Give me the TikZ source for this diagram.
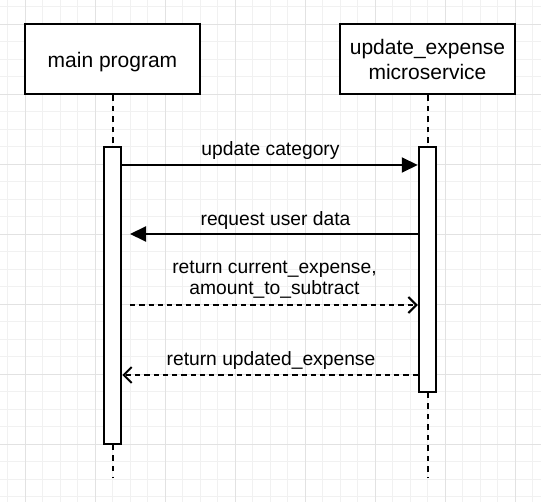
\documentclass[tikz,border=0pt]{standalone}
\usepackage{fontspec}
\setmainfont{Liberation Sans}
\usetikzlibrary{arrows.meta}
\definecolor{gridminor}{HTML}{F1F1F1}
\definecolor{gridmajor}{HTML}{E2E2E2}
\tikzset{
  hdr/.style={draw=black, line width=2pt, fill=white, minimum width=175pt, minimum height=70pt, inner sep=0pt, align=center, font=\fontsize{21}{25}\selectfont},
  actbar/.style={draw=black, line width=2pt, fill=white, minimum width=17.5pt, inner sep=0pt},
  lifeline/.style={line width=2pt, dash pattern=on 5.25pt off 5.25pt},
  msg/.style={line width=2pt, -{Triangle[length=16pt,width=15pt]}},
  reply/.style={line width=2pt, dash pattern=on 5.25pt off 4pt, -{Straight Barb[length=8pt,width=16pt]}},
  lbl/.style={inner sep=0pt, font=\fontsize{19.25}{21.7}\selectfont, align=center}
}
\begin{document}
\begin{tikzpicture}[x=1pt,y=-1pt]
\useasboundingbox (0,0) rectangle (541,502);
\fill[white] (0,0) rectangle (541,502);
% grid
\foreach \i in {0,...,30} {
  \draw[gridminor, line width=0.8pt] ({7.8+17.5*\i},0) -- ({7.8+17.5*\i},502);
  \draw[gridminor, line width=0.8pt] (0,{6.5+17.5*\i}) -- (541,{6.5+17.5*\i});
}
\foreach \i in {0,...,7} {
  \draw[gridmajor, line width=0.8pt] ({25.3+70*\i},0) -- ({25.3+70*\i},502);
  \draw[gridmajor, line width=0.8pt] (0,{24+70*\i}) -- (541,{24+70*\i});
}
% headers
\node[hdr, text depth=0pt] (mp) at (112.5,59.5) {main program};
\node[hdr] (ue) at (427.5,59.5) {update\_expense\\microservice};
% activation bars
\node[actbar, minimum height=297pt] (barL) at (112.5,295.5) {};
\node[actbar, minimum height=245pt] (barR) at (427.5,269.5) {};
% lifeline ends
\coordinate (endL) at (112.5,478);
\coordinate (endR) at (427.5,478);
\draw[lifeline] (mp.south) -- (barL.north);
\draw[lifeline] (barL.south) -- (endL);
\draw[lifeline] (ue.south) -- (barR.north);
\draw[lifeline] (barR.south) -- (endR);
% message tips near left bar
\coordinate (tipA) at (130,234);
\coordinate (startB) at (130,305);
% messages
\draw[msg] (barL.east |- 0,165) -- (barR.west |- 0,165);
\draw[msg] (barR.west |- 0,234) -- (tipA);
\draw[reply] (startB) -- (barR.west |- 0,305);
\draw[reply] (barR.west |- 0,375) -- (barL.east |- 0,375);
% labels
\node[lbl, anchor=base] (l1) at (270.5,155.7) {update category};
\node[lbl, anchor=base] (l2) at (275.5,225.7) {request user data};
\node[lbl, anchor=south, text depth=0pt] (l3) at (274.5,295) {return current\_expense,\\amount\_to\_subtract};
\node[lbl, anchor=base] (l4) at (271,365.7) {return updated\_expense};
\end{tikzpicture}
\end{document}
